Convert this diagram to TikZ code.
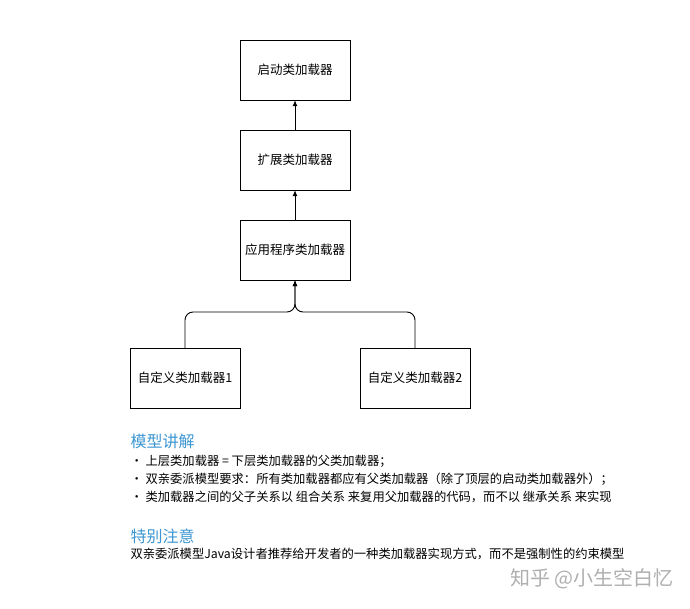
\documentclass[tikz,border=0pt]{standalone}
\usepackage{fontspec}
\setmainfont{Noto Sans CJK SC}
\usetikzlibrary{positioning,arrows.meta}
\definecolor{headblue}{RGB}{60,150,210}
\definecolor{markgray}{RGB}{175,175,175}
\begin{document}
\begin{tikzpicture}[x=1pt,y=-1pt,
    box/.style={draw, minimum width=110pt, minimum height=60pt, inner sep=0pt, font=\fontsize{12.5}{14}\selectfont},
    link/.style={-{Latex[length=6pt,width=5pt]}, line width=0.9pt, rounded corners=8pt},
    head/.style={anchor=west, text=headblue, font=\fontsize{16}{18}\selectfont},
    line/.style={anchor=west, font=\fontsize{12.3}{14}\selectfont}]
    \useasboundingbox (0,0) rectangle (690,608);
    \node [box] (boot) at (295,70) {启动类加载器};
    \node [box] (ext) at (295,160) {扩展类加载器};
    \node [box] (app) at (295,250) {应用程序类加载器};
    \node [box] (cust1) at (185,378) {自定义类加载器1};
    \node [box] (cust2) at (415,378) {自定义类加载器2};
    \coordinate (fork) at (295,312);
    \draw [link] (ext) -- (boot);
    \draw [link] (app) -- (ext);
    \draw [link] (cust1.north) |- (fork) -- (app.south);
    \draw [link] (cust2.north) |- (fork) -- (app.south);
    % notes
    \node [head] (h1) at (127,441) {模型讲解};
    \node [line] (l1) at (127,461) {• 上层类加载器 = 下层类加载器的父类加载器；};
    \node [line] (l2) at (127,479) {• 双亲委派模型要求：所有类加载器都应有父类加载器（除了顶层的启动类加载器外）；};
    \node [line] (l3) at (127,497) {• 类加载器之间的父子关系以 组合关系 来复用父加载器的代码，而不以 继承关系 来实现};
    \node [head] (h2) at (127,536) {特别注意};
    \node [line] (l4) at (127,554) {双亲委派模型Java设计者推荐给开发者的一种类加载器实现方式，而不是强制性的约束模型};
    \node [anchor=east, text=markgray, font=\fontsize{20}{22}\selectfont] (mark) at (677,579) {知乎 @小生空白忆};
\end{tikzpicture}
\end{document}
